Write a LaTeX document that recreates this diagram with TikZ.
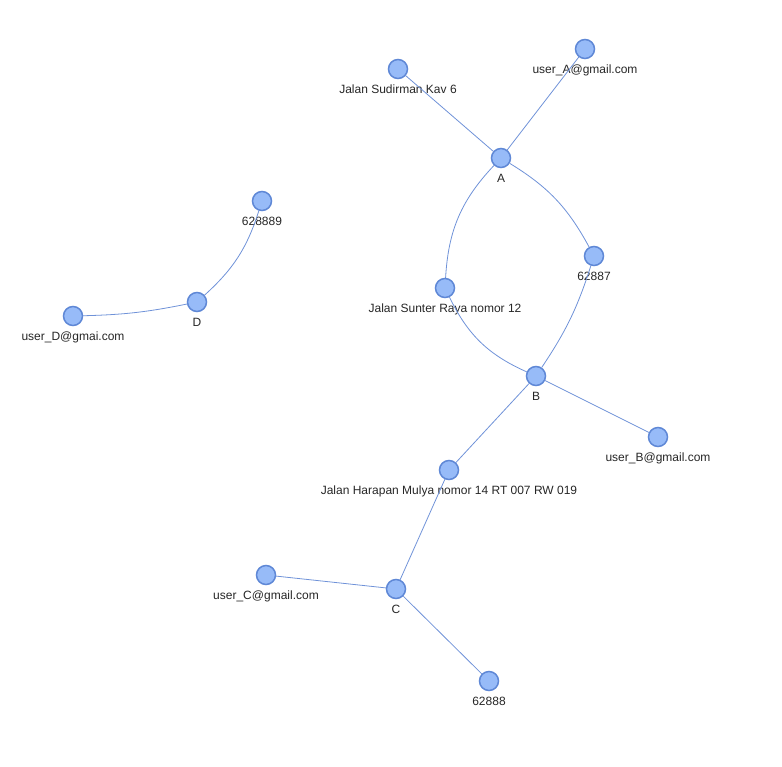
\documentclass[tikz,border=0pt]{standalone}
\usepackage{fontspec}
\setmainfont{Liberation Sans}
\definecolor{vfill}{HTML}{97BBF8}
\definecolor{vline}{HTML}{5F88D6}
\definecolor{eline}{HTML}{6F92D8}
\tikzset{
	vert/.style={circle, draw=vline, fill=vfill, line width=1.5pt, minimum size=19pt, inner sep=0pt},
	lbl/.style={font=\fontsize{12}{14}\selectfont, text=black!85},
	link/.style={draw=eline, line width=0.8pt}
}
\begin{document}
\begin{tikzpicture}[x=1pt, y=-1pt]
	\useasboundingbox (0,0) rectangle (782,766);
	
	\node[vert, label={[lbl, label distance=2pt]below:A}] (A) at (501,158) {};
	\node[vert, label={[lbl, label distance=2pt]below:Jalan Sudirman Kav 6}] (sud) at (398,69) {};
	\node[vert, label={[lbl, label distance=2pt]below:user\_A@gmail.com}] (ua) at (585,49) {};
	\node[vert, label={[lbl, label distance=2pt]below:62887}] (t87) at (594,256) {};
	\node[vert, label={[lbl, label distance=2pt]below:Jalan Sunter Raya nomor 12}] (sun) at (445,288) {};
	\node[vert, label={[lbl, label distance=2pt]below:B}] (B) at (536,376) {};
	\node[vert, label={[lbl, label distance=2pt]below:user\_B@gmail.com}] (ub) at (658,437) {};
	\node[vert, label={[lbl, label distance=2pt]below:Jalan Harapan Mulya nomor 14 RT 007 RW 019}] (har) at (449,470) {};
	\node[vert, label={[lbl, label distance=2pt]below:C}] (C) at (396,589) {};
	\node[vert, label={[lbl, label distance=2pt]below:user\_C@gmail.com}] (uc) at (266,575) {};
	\node[vert, label={[lbl, label distance=2pt]below:62888}] (t88) at (489,681) {};
	\node[vert, label={[lbl, label distance=2pt]below:D}] (D) at (197,302) {};
	\node[vert, label={[lbl, label distance=2pt]below:628889}] (t89) at (262,201) {};
	\node[vert, label={[lbl, label distance=2pt]below:user\_D@gmai.com}] (ud) at (73,316) {};
	
	% edges
	\begin{scope}[on background layer/.style={}]
		\path[link] (A) -- (sud);
		\path[link] (A) -- (ua);
		\path[link] (A) to[bend right=20] (sun);
		\path[link] (A) to[bend left=15] (t87);
		\path[link] (sun) to[bend right=20] (B);
		\path[link] (t87) to[bend left=8] (B);
		\path[link] (B) -- (ub);
		\path[link] (B) -- (har);
		\path[link] (har) -- (C);
		\path[link] (C) -- (uc);
		\path[link] (C) -- (t88);
		\path[link] (D) to[bend right=15] (t89);
		\path[link] (D) to[bend left=5] (ud);
	\end{scope}
\end{tikzpicture}
\end{document}
